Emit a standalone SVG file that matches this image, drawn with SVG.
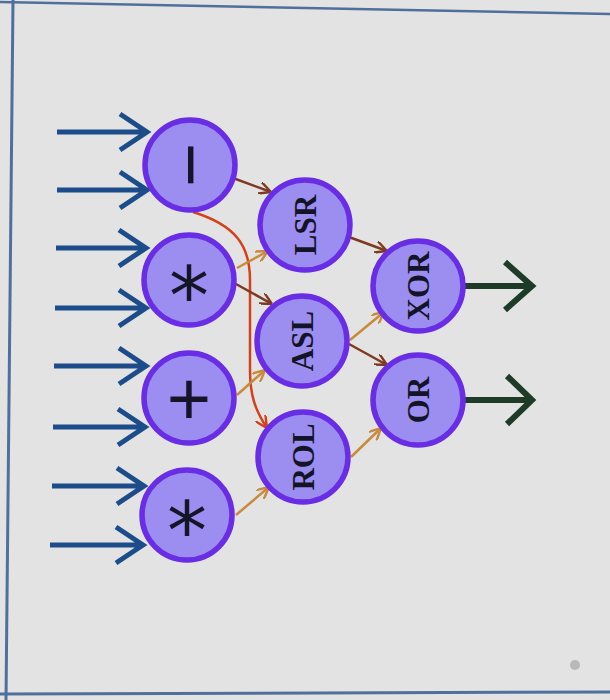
<svg xmlns="http://www.w3.org/2000/svg" width="610" height="700" viewBox="0 0 610 700">
<defs>
<style>
.node circle{fill:#9b8ef0;stroke:#6a2de6;stroke-width:5.5}
.lbl{font-family:"Liberation Serif",serif;font-weight:bold;font-size:31px;fill:#141428;text-anchor:middle;dominant-baseline:central}
.sym{font-family:"Liberation Sans",Arial,sans-serif;fill:#15152a;text-anchor:middle}
.ast{font-family:"DejaVu Sans",sans-serif;font-size:80px;fill:#15152a;text-anchor:middle}
.in{fill:none;stroke:#1c4d8a;stroke-width:5;stroke-linejoin:miter}
.out{fill:none;stroke:#1d3b26;stroke-width:6}
.e{fill:none;stroke-width:2.5}
.br{stroke:#7e3a20}
.or{stroke:#c88a3c}
.rd{stroke:#d4401c}
</style>
<marker id="mbr" viewBox="0 0 10 10" refX="10" refY="5" markerWidth="12" markerHeight="12" markerUnits="userSpaceOnUse" orient="auto"><path d="M0,0 L10,5 L0,10" fill="none" stroke="#7e3a20" stroke-width="2"/></marker>
<marker id="mor" viewBox="0 0 10 10" refX="10" refY="5" markerWidth="12" markerHeight="12" markerUnits="userSpaceOnUse" orient="auto"><path d="M0,0 L10,5 L0,10" fill="none" stroke="#c88a3c" stroke-width="2"/></marker>
<marker id="mrd" viewBox="0 0 10 10" refX="10" refY="5" markerWidth="12" markerHeight="12" markerUnits="userSpaceOnUse" orient="auto"><path d="M0,0 L10,5 L0,10" fill="none" stroke="#d4401c" stroke-width="2"/></marker>
</defs>
<rect width="610" height="700" fill="#e3e3e3"/>
<g id="frame" fill="none" stroke="#4f6f9c" stroke-width="3">
<path d="M13,0 L6,700"/>
<path d="M0,2 L610,14" stroke-width="2.5"/>
<path d="M0,694 L610,692" stroke-width="3"/>
</g>
<circle cx="575" cy="665" r="5" fill="#b8b8b8"/>
<g id="connectors">
<path class="in" d="M57,132 H147 M120,114 L147,132 L120,150"/>
<path class="in" d="M57,190 H147 M120,172 L147,190 L120,208"/>
<path class="in" d="M56,248 H146 M119,230 L146,248 L119,266"/>
<path class="in" d="M55,308 H146 M119,290 L146,308 L119,326"/>
<path class="in" d="M54,366 H146 M119,348 L146,366 L119,384"/>
<path class="in" d="M53,427 H145 M118,409 L145,427 L118,445"/>
<path class="in" d="M52,486 H144 M117,468 L144,486 L117,504"/>
<path class="in" d="M50,545 H143 M116,527 L143,545 L116,563"/>
<path class="out" d="M463,286 H532 M505,262 L532,286 L505,310"/>
<path class="out" d="M463,400 H532 M507,376 L532,400 L507,424"/>
<path class="e br" d="M233,178 L271,192" marker-end="url(#mbr)"/>
<path class="e rd" d="M193,212 C235,225 250,245 250,280 L250,370 C250,395 255,410 267,428" marker-end="url(#mrd)"/>
<path class="e or" d="M237,268 L268,251" marker-end="url(#mor)"/>
<path class="e br" d="M236,284 L272,304" marker-end="url(#mbr)"/>
<path class="e or" d="M237,395 L265,370" marker-end="url(#mor)"/>
<path class="e or" d="M236,515 L269,487" marker-end="url(#mor)"/>
<path class="e br" d="M349,237 L387,251" marker-end="url(#mbr)"/>
<path class="e or" d="M350,340 L384,312" marker-end="url(#mor)"/>
<path class="e br" d="M349,344 L387,365" marker-end="url(#mbr)"/>
<path class="e or" d="M351,457 L381,428" marker-end="url(#mor)"/>
</g>
<g id="n_minus" class="node"><circle cx="190" cy="165" r="45"/><text class="sym" x="190" y="191" font-size="76" transform="rotate(-90 190 165)">−</text></g>
<g id="n_mul1" class="node"><circle cx="189" cy="280" r="45"/><text class="ast" x="189" y="324">*</text></g>
<g id="n_plus" class="node"><circle cx="189" cy="398" r="45"/><text class="sym" x="189" y="425" font-size="76">+</text></g>
<g id="n_mul2" class="node"><circle cx="187" cy="515" r="45"/><text class="ast" x="187" y="559">*</text></g>
<g id="n_lsr" class="node"><circle cx="305" cy="225" r="45"/><text class="lbl" x="305" y="225" transform="rotate(-90 305 225)">LSR</text></g>
<g id="n_asl" class="node"><circle cx="302" cy="341" r="45"/><text class="lbl" x="302" y="341" transform="rotate(-90 302 341)">ASL</text></g>
<g id="n_rol" class="node"><circle cx="303" cy="457" r="45"/><text class="lbl" x="303" y="457" transform="rotate(-90 303 457)">ROL</text></g>
<g id="n_xor" class="node"><circle cx="418" cy="286" r="45"/><text class="lbl" x="418" y="286" transform="rotate(-90 418 286)">XOR</text></g>
<g id="n_or" class="node"><circle cx="418" cy="400" r="45"/><text class="lbl" x="418" y="400" transform="rotate(-90 418 400)">OR</text></g>
</svg>
